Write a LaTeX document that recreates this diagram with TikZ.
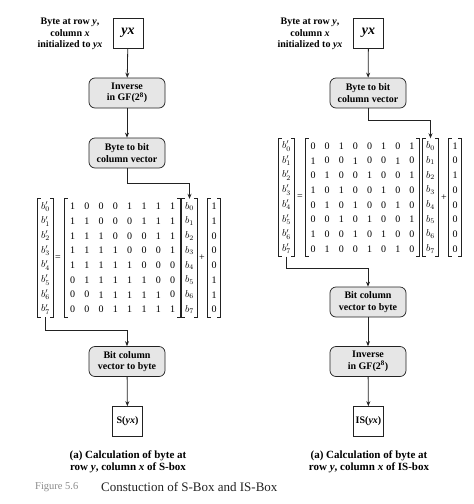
\documentclass[tikz,border=0pt]{standalone}
\usepackage{fontspec}
\setmainfont{Liberation Serif}
\usetikzlibrary{arrows.meta}
\definecolor{boxfill}{HTML}{E6E6E6}
\definecolor{ink}{HTML}{222222}
\newcommand\drawbrackets[1]{%
  \draw[brk] ([xshift=3pt]#1.north west) -- (#1.north west) -- (#1.south west) -- ([xshift=3pt]#1.south west);
  \draw[brk] ([xshift=-3pt]#1.north east) -- (#1.north east) -- (#1.south east) -- ([xshift=-3pt]#1.south east);}
\tikzset{
  conn/.style={draw=ink, line width=0.8pt},
  arr/.style={conn, -{Stealth[length=5pt,width=4pt]}},
  brk/.style={draw=ink, line width=0.7pt},
  proc/.style={draw=ink, line width=0.7pt, fill=boxfill, rounded corners=6pt,
    minimum width=76pt, minimum height=30pt, align=center, inner sep=0pt,
    font=\bfseries\fontsize{10}{11.5}\selectfont},
  sq/.style={draw=ink, line width=0.7pt, fill=white, minimum size=30pt, inner sep=0pt},
  lbl/.style={align=center, inner sep=0pt, font=\bfseries\fontsize{10}{11.5}\selectfont},
  captext/.style={align=center, inner sep=0pt, font=\bfseries\fontsize{11}{12.5}\selectfont},
  vec/.style={minimum width=#1, minimum height=118pt, inner sep=0pt},
  ent/.style={inner sep=0pt, font=\fontsize{10}{12}\selectfont},
}
\begin{document}
\begin{tikzpicture}[x=1pt,y=-1pt]
\fill[white] (0,0) rectangle (474,504);
\useasboundingbox (0,0) rectangle (474,504);

% ---------------- left: S-box ----------------
\node[sq] (yxL) at (128,33) {\fontsize{14}{14}\selectfont\bfseries\itshape yx};
\node[lbl] (labL) at (70,34) {Byte at row \textit{y},\\column \textit{x}\\initialized to \textit{yx}};
\node[proc] (invL) at (127,93) {Inverse\\in GF(2\textsuperscript{8})};
\node[proc] (b2cL) at (127,153) {Byte to bit\\column vector};

\node[vec=15pt] (bpL) at (45.5,258) {};
\node[ent] (eqL) at (58,258) {=};
\node[vec=115pt] (mL) at (122.5,258) {};
\node[vec=15pt] (bvL) at (189.5,258) {};
\node[ent] (plL) at (202,258) {+};
\node[vec=12pt] (cL) at (214,258) {};
\drawbrackets{bpL}
\drawbrackets{mL}
\drawbrackets{bvL}
\drawbrackets{cL}
\foreach \k in {0,...,7} {
  \node[ent] (bpL\k) at (45.5,206.5+14.7*\k) {$b'_{\k}$};
  \node[ent] (bvL\k) at (189.5,206.5+14.7*\k) {$b_{\k}$};
}
\foreach \v [count=\k from 0] in {1,1,0,0,0,1,1,0}
  \node[ent] (cL\k) at (214,206.5+14.7*\k) {\v};
\foreach \row [count=\i from 0] in {
  {1,0,0,0,1,1,1,1},{1,1,0,0,0,1,1,1},{1,1,1,0,0,0,1,1},{1,1,1,1,0,0,0,1},
  {1,1,1,1,1,0,0,0},{0,1,1,1,1,1,0,0},{0,0,1,1,1,1,1,0},{0,0,0,1,1,1,1,1}} {
  \foreach \v [count=\j from 0] in \row
    \node[ent] (mL-\i-\j) at (72.5+14.3*\j,206.5+14.7*\i) {\v};
}

\node[proc] (bcL) at (127,361.5) {Bit column\\vector to byte};
\node[sq] (SL) at (127.5,421.5) {\bfseries\fontsize{10}{12}\selectfont S(\textit{yx})};
\node[captext] (capL) at (128,462) {(a) Calculation of byte at\\row \textit{y}, column \textit{x} of S-box};

\draw[arr] (yxL) -- (invL);
\draw[arr] (invL) -- (b2cL);
\draw[arr] (b2cL.south) -- ++(0,15) -| (bvL.north);
\draw[arr] (bpL.south) -- ++(0,13) -| (bcL.north);
\draw[arr] (bcL) -- (SL);

% ---------------- right: IS-box ----------------
\node[sq] (yxR) at (368.5,33) {\fontsize{14}{14}\selectfont\bfseries\itshape yx};
\node[lbl] (labR) at (310,34) {Byte at row \textit{y},\\column \textit{x}\\initialized to \textit{yx}};
\node[proc] (b2cR) at (368,93) {Byte to bit\\column vector};

\node[vec=15pt] (bpR) at (286.5,197.5) {};
\node[ent] (eqR) at (300,197.5) {=};
\node[vec=113pt] (mR) at (362.5,197.5) {};
\node[vec=15pt] (bvR) at (430.5,197.5) {};
\node[ent] (plR) at (444,197.5) {+};
\node[vec=12pt] (cR) at (455,197.5) {};
\drawbrackets{bpR}
\drawbrackets{mR}
\drawbrackets{bvR}
\drawbrackets{cR}
\foreach \k in {0,...,7} {
  \node[ent] (bpR\k) at (286.5,146+14.7*\k) {$b'_{\k}$};
  \node[ent] (bvR\k) at (430.5,146+14.7*\k) {$b_{\k}$};
}
\foreach \v [count=\k from 0] in {1,0,1,0,0,0,0,0}
  \node[ent] (cR\k) at (455,146+14.7*\k) {\v};
\foreach \row [count=\i from 0] in {
  {0,0,1,0,0,1,0,1},{1,0,0,1,0,0,1,0},{0,1,0,0,1,0,0,1},{1,0,1,0,0,1,0,0},
  {0,1,0,1,0,0,1,0},{0,0,1,0,1,0,0,1},{1,0,0,1,0,1,0,0},{0,1,0,0,1,0,1,0}} {
  \foreach \v [count=\j from 0] in \row
    \node[ent] (mR-\i-\j) at (313+14.14*\j,146+14.7*\i) {\v};
}

\node[proc] (bcR) at (368,302) {Bit column\\vector to byte};
\node[proc] (invR) at (368,361.5) {Inverse\\in GF(2\textsuperscript{8})};
\node[sq] (ISR) at (368.5,421.5) {\bfseries\fontsize{10}{12}\selectfont IS(\textit{yx})};
\node[captext] (capR) at (369,462) {(a) Calculation of byte at\\row \textit{y}, column \textit{x} of IS-box};

\draw[arr] (yxR) -- (b2cR);
\draw[arr] (b2cR.south) -- ++(0,12) -| (bvR.north);
\draw[arr] (bpR.south) -- ++(0,12) -| (bcR.north);
\draw[arr] (bcR) -- (invR);
\draw[arr] (invR) -- (ISR);

% ---------------- figure caption ----------------
\node[anchor=west, inner sep=0pt, text=black!45, font=\fontsize{10.5}{12}\selectfont] (fig) at (35,487) {Figure 5.6};
\node[anchor=west, inner sep=0pt, text=ink, font=\fontsize{13}{15}\selectfont] (figt) at (101,487) {Constuction of S-Box and IS-Box};
\end{tikzpicture}
\end{document}
